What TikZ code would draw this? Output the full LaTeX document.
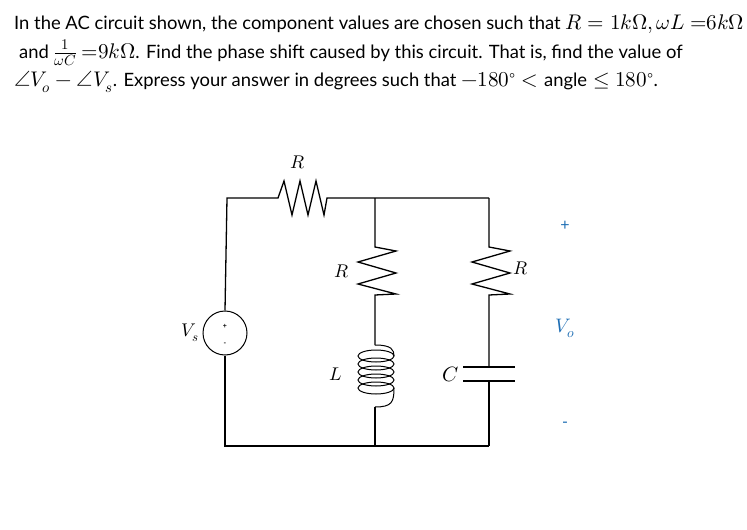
\documentclass[tikz,border=0pt]{standalone}
\usepackage{fontspec}
\setmainfont{Lato}
\usepackage{unicode-math}
\setmathfont{Latin Modern Math}[Scale=1.15]
\definecolor{vblue}{RGB}{30,110,180}
\begin{document}
\begin{tikzpicture}[x=1pt,y=-1pt,wire/.style={line width=1.3pt,black},
  lbl/.style={font=\fontsize{16}{18}\selectfont},
  blue/.style={text=vblue,font=\fontsize{16}{18}\selectfont},
  txt/.style={anchor=west,font=\fontsize{18.4}{20}\selectfont,inner sep=0pt}]
\useasboundingbox (0,0) rectangle (747,530);
\node[txt] (l1) at (14,24) {In the AC circuit shown, the component values are chosen such that $R=1k\Omega,\omega L=$$6k\Omega$};
\node[txt] (l2) at (19,53) {and $\frac{1}{\omega C}$ $=$$9k\Omega$. Find the phase shift caused by this circuit. That is, find the value of};
\node[txt] (l3) at (14,82) {$\angle V_o-\angle V_s$. Express your answer in degrees such that $-180^\circ<\mathrm{angle}\le180^\circ$.};
\coordinate (tl) at (227,198);
\coordinate (tm) at (375,198);
\coordinate (tr) at (489,198);
\coordinate (bl) at (225,446);
\coordinate (bm) at (375,446);
\coordinate (br) at (489,446);
\node[circle,draw,line width=1pt,minimum size=44pt,inner sep=0pt] (src) at (225,333) {};
\node[font=\scriptsize\bfseries] (sp) at (225,326) {+};
\node[font=\scriptsize\bfseries] (sm) at (225,344) {-};
\draw[wire] (src.north) -- (tl) -- (278,198) -- (284,181) -- (292,215) -- (300,181) -- (308,215) -- (316,181) -- (324,215) -- (327,198) -- (tr);
\draw[wire] (src.south) -- (bl) -- (br);
\draw[wire] (tm) -- (375,247) -- (396,251) -- (358,262) -- (396,273) -- (358,284) -- (396,294) -- (375,295) -- (375,345);
\foreach \y in {356,364,372,380,388}
  \draw[line width=1pt] (376,\y) ellipse (18 and 6);
\draw[line width=1pt] (375,345) .. controls (392,345) and (394,350) .. (394,356);
\draw[line width=1pt] (394,388) .. controls (394,402) and (392,407) .. (375,407);
\draw[wire] (375,407) -- (bm);
\draw[wire] (tr) -- (489,247) -- (510,251) -- (472,262) -- (510,273) -- (472,284) -- (510,294) -- (489,295) -- (489,367);
\draw[wire] (463,367) -- (515,367);
\draw[wire] (463,381) -- (515,381);
\draw[wire] (489,381) -- (br);
\node[lbl] (rt) at (298,162) {$R$};
\node[lbl] (rm) at (342,271) {$R$};
\node[lbl] (rr) at (521,268) {$R$};
\node[lbl] (ll) at (336,374) {$L$};
\node[lbl,font=\fontsize{18}{21}\selectfont] (cc) at (451,374) {$C$};
\node[lbl] (vs) at (190,333) {$V_s$};
\node[blue] (vp) at (565,226) {+};
\node[blue,font=\fontsize{17}{20}\selectfont] (vo) at (565,328) {$V_o$};
\node[blue] (vm) at (565,425) {-};
\end{tikzpicture}
\end{document}
